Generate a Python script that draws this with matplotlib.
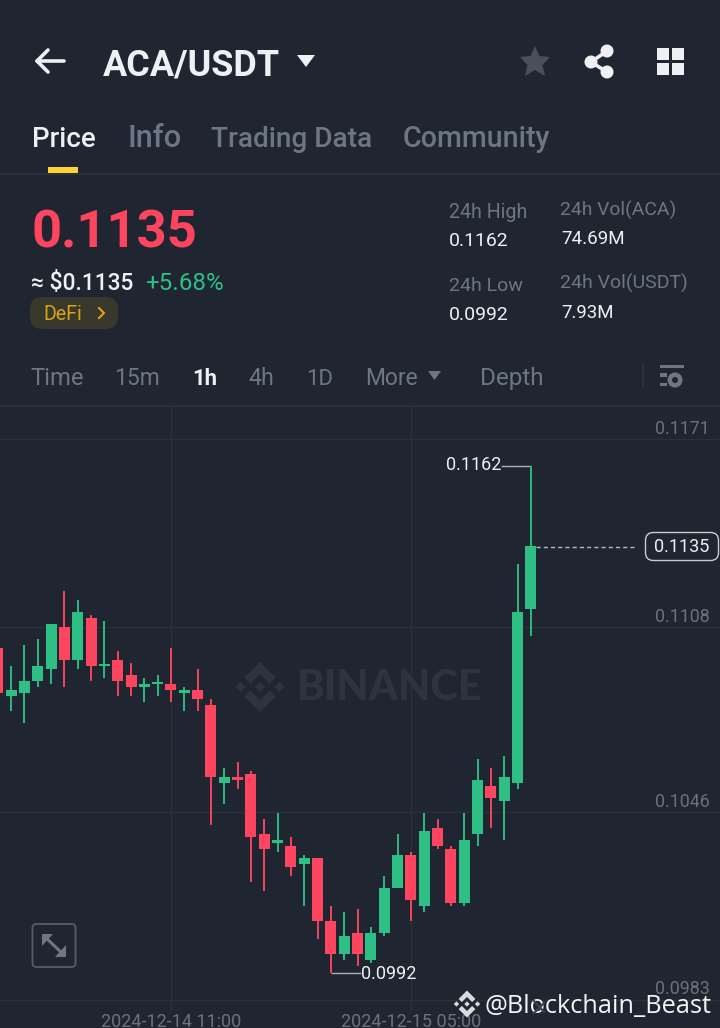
import matplotlib
matplotlib.use("Agg")
import matplotlib.pyplot as plt
from matplotlib.patches import FancyBboxPatch, Polygon, Rectangle, Circle
from matplotlib.transforms import ScaledTranslation

# ---------- data ----------
opens = [.110118,.108496,.108597,.109000,.109403,.110813,.109705,.111115,.109513,.109705,
         .109201,.108798,.108899,.108899,.108597,.108698,.108194,.105586,.105787,.105888,
         .103874,.103571,.103471,.102867,.103068,.100963,.099855,.100550,.099644,.100550,
         .102061,.103169,.101457,.104075,.103370,.101557,.103874,.105485,.104981,.105586,.111417]
closes = [.108607,.108698,.109000,.109503,.110913,.109705,.111316,.109503,.109581,.109000,
          .108798,.108899,.108976,.108698,.108698,.108395,.105787,.105787,.105686,.103773,
          .103370,.103649,.102766,.103068,.100963,.099855,.100449,.099855,.100550,.102061,
          .103169,.101658,.103974,.103471,.101557,.103672,.105686,.105082,.105787,.111316,.113518]
highs = [.110118,.109503,.110208,.110410,.110913,.112021,.111719,.111215,.111014,.110007,
         .109604,.109100,.109201,.110108,.108798,.109403,.108395,.106089,.106291,.105989,
         .104377,.104579,.103773,.103169,.103068,.101457,.101255,.101356,.100752,.102464,
         .103874,.103269,.104579,.104377,.103471,.104579,.106391,.106089,.106492,.112927,.116200]
lows = [.108607,.107993,.107590,.108798,.108899,.108798,.109403,.109000,.109100,.108496,
        .108496,.108295,.108496,.108295,.107993,.107993,.104176,.104881,.105384,.102262,
        .101960,.103269,.102464,.101457,.100349,.099207,.099644,.099442,.099543,.100449,
        .102061,.100953,.101255,.103370,.101457,.101457,.103471,.104075,.103672,.105384,.110520]
price_ticks = [0.1171, 0.1108, 0.1046, 0.0983]
time_ticks = [13, 31]
time_labels = ["2024-12-14 11:00", "2024-12-15 05:00"]
last_price = 0.1135
high_24 = 0.1162
low_24 = 0.0992

# ---------- style ----------
BG = "#1f2631"; GRID = "#2a313b"; RED = "#fd455f"; GREEN = "#2ebf85"
GRAY = "#6e7685"; WHITE = "#eef0f3"; AXTXT = "#6a717d"; WM = "#2d343f"
FONT = "Roboto"
W, H = 720, 1028
PXPT = 72 / 100

fig = plt.figure(figsize=(7.2, 10.28), dpi=100, facecolor=BG)

# ---------- chart axes ----------
ax_top, ax_bot = 407, 1012
ax = fig.add_axes([0, (H - ax_bot) / H, 1, (ax_bot - ax_top) / H], facecolor=BG)
step, x0 = 13.33, -2.3
y_per = 29819.0
ref_y, ref_p = 439.4, 0.1171
ax.set_xlim((0 - x0) / step, (W - x0) / step)
ax.set_ylim(ref_p - (ax_bot - ref_y) / y_per, ref_p - (ax_top - ref_y) / y_per)
for s in ax.spines.values():
    s.set_visible(False)

idx = list(range(len(opens)))
cols = [GREEN if c >= o else RED for o, c in zip(opens, closes)]
ax.vlines(idx, lows, highs, colors=cols, lw=1.35, zorder=3)
ax.bar(idx, [max(abs(c - o), 2 / y_per) for o, c in zip(opens, closes)],
       bottom=[min(o, c) for o, c in zip(opens, closes)],
       width=11 / step, color=cols, linewidth=0, zorder=4)

ax.set_yticks(price_ticks, [f"{p:.4f}" for p in price_ticks])
ax.set_xticks(time_ticks, time_labels)
ax.grid(True, color=GRID, lw=1.0, zorder=0)
ax.set_axisbelow(True)
ax.tick_params(axis="x", length=0, pad=1, labelcolor=AXTXT, labelsize=13)
ax.tick_params(axis="y", length=0, pad=-7.5, labelleft=False, labelright=True,
               labelcolor=AXTXT, labelsize=12.8)
for lab in ax.get_xticklabels():
    lab.set_fontfamily(FONT)
for tick in ax.yaxis.get_major_ticks():
    tick.label2.set_fontfamily(FONT)
    tick.label2.set_ha("right")
    tick.label2.set_va("center")
    tick.label2.set_transform(tick.label2.get_transform()
                              + ScaledTranslation(0, 10.5 / 100, fig.dpi_scale_trans))

# high / low leaders
hi_i = highs.index(max(highs)); lo_i = lows.index(min(lows))
ax.hlines(high_24, hi_i - 30 / step, hi_i, color="#aeb3bb", lw=1.0, zorder=2)
ax.hlines(low_24, lo_i, lo_i + 30 / step, color="#aeb3bb", lw=1.0, zorder=2)
ax.annotate(f"{high_24:.4f}", (hi_i, high_24), xytext=(-30 * PXPT, 0.8), textcoords="offset points",
            ha="right", va="center", color=WHITE, fontsize=13, family=FONT)
ax.annotate(f"{low_24:.4f}", (lo_i, low_24), xytext=(30 * PXPT, -0.8), textcoords="offset points",
            ha="left", va="center", color=WHITE, fontsize=13, family=FONT)
# last price
ax.hlines(last_price, idx[-1] + 0.42, (637 - x0) / step, color="#b4b8bf", lw=1.0,
          linestyles=(0, (3, 2.2)), zorder=2)
ax.annotate(f"{last_price:.4f}", (682 / W, last_price), xycoords=ax.get_yaxis_transform(),
            ha="center", va="center", color=WHITE, fontsize=13, family=FONT, zorder=8)

# ---------- UI overlay in pixels ----------
ui = fig.add_axes([0, 0, 1, 1], facecolor="none", zorder=5)
ui.set_xlim(0, W); ui.set_ylim(H, 0); ui.axis("off")
ax.set_zorder(6); ax.patch.set_alpha(1)
rend = fig.canvas.get_renderer()

def fit(x1, x2, y, s, color=WHITE, weight="normal", family=FONT, target=ui):
    t = target.text(x1, y, s, color=color, fontweight=weight, family=family,
                    ha="left", va="baseline", fontsize=14, zorder=9)
    w = t.get_window_extent(rend).width
    t.set_fontsize(14 * (x2 - x1) / w)
    return t

def rect(x1, y1, x2, y2, c, target=ui, z=2):
    target.add_patch(Rectangle((x1, y1), x2 - x1, y2 - y1, fc=c, ec="none", zorder=z))

def poly(pts, c, target=ui, z=3):
    target.add_patch(Polygon(pts, closed=True, fc=c, ec="none", zorder=z))

def logo(cx, cy, r, c, target=ui, z=3):
    for dx in (-0.78, 0, 0.78):
        poly([(cx + (dx - .2) * r, cy), (cx + dx * r, cy - .2 * r),
              (cx + (dx + .2) * r, cy), (cx + dx * r, cy + .2 * r)], c, target, z)
    for sgn in (-1, 1):
        poly([(cx, cy + sgn * r), (cx + .62 * r, cy + sgn * .38 * r),
              (cx + .38 * r, cy + sgn * .14 * r), (cx, cy + sgn * .52 * r),
              (cx - .38 * r, cy + sgn * .14 * r), (cx - .62 * r, cy + sgn * .38 * r)],
             c, target, z)

# header
ui.plot([37, 64], [61, 61], color=WHITE, lw=2.6, solid_capstyle="round")
ui.plot([48, 37, 48], [50, 61, 72], color=WHITE, lw=2.6, solid_capstyle="round", solid_joinstyle="round")
fit(103, 281, 75, "ACA/USDT", weight="bold")
poly([(297, 55), (315, 55), (306, 67)], WHITE)
star = [(535, 46), (539.5, 56), (550, 57), (542.5, 65), (545, 76), (535, 70), (525, 76), (527.5, 65), (520, 57), (530.5, 56)]
poly(star, "#49505c")
ui.plot([607, 591, 607], [51, 62, 72], color=WHITE, lw=2.6)
for cx, cy, r in [(607, 51, 6.5), (591, 62, 6.5), (607, 72, 6.5)]:
    ui.add_patch(Circle((cx, cy), r, fc=WHITE, ec="none", zorder=3))
for x in (657, 672):
    for y in (48, 63):
        rect(x, y, x + 12, y + 12, WHITE)

fit(32, 96, 147, "Price", weight="medium")
fit(127, 181, 147, "Info", color=GRAY, weight="medium")
fit(211, 372, 147, "Trading Data", color=GRAY, weight="medium")
fit(403, 551, 147, "Community", color=GRAY, weight="medium")
rect(48, 167, 78, 173, "#fcd535", z=3)
rect(0, 173, W, 175, GRID)

fit(31, 197, 248, "0.1135", color=RED, weight="bold")
fit(31, 134, 290, "≈ $0.1135", weight="medium")
fit(145, 224, 290, "+5.68%", color=GREEN)
ui.add_patch(FancyBboxPatch((34, 301), 80, 24, boxstyle="round,pad=0,rounding_size=8",
                            mutation_aspect=1, fc="#3a372c", ec="#3a372c", lw=8 * PXPT, zorder=2))
fit(43, 82, 320, "DeFi", color="#d8a70d")
ui.plot([99, 104, 99], [308, 313, 318], color="#d8a70d", lw=1.5)

fit(449, 528, 218, "24h High", color=GRAY)
fit(449, 509, 246, "0.1162")
fit(449, 523, 291, "24h Low", color=GRAY)
fit(449, 509, 320, "0.0992")
fit(560, 676, 216, "24h Vol(ACA)", color=GRAY)
fit(561, 625, 244, "74.69M")
fit(560, 688, 289, "24h Vol(USDT)", color=GRAY)
fit(561, 614, 318, "7.93M")

fit(30, 84, 385, "Time", color=GRAY)
fit(114, 160, 385, "15m", color=GRAY)
fit(192, 217, 385, "1h", weight="bold")
fit(248, 274, 385, "4h", color=GRAY)
fit(306, 333, 385, "1D", color=GRAY)
fit(365, 418, 385, "More", color=GRAY)
poly([(428, 371), (441, 371), (434.5, 380)], GRAY)
fit(480, 544, 385, "Depth", color=GRAY)
rect(642, 363, 644, 387, GRID)
rect(660, 365, 684, 368, GRAY)
rect(660, 373, 667, 377, GRAY)
rect(660, 383, 667, 386, GRAY)
ui.add_patch(Circle((675, 380), 7.5, fc=GRAY, ec="none", zorder=3))
ui.add_patch(Circle((675, 380), 3, fc=BG, ec="none", zorder=4))
rect(0, 405, W, 407, GRID)

# overlays that must sit over the chart
top = fig.add_axes([0, 0, 1, 1], facecolor="none", zorder=7)
top.set_xlim(0, W); top.set_ylim(H, 0); top.axis("off")

logo(260, 687, 25, WM, top)
fit(297, 484, 700, "BINANCE", color=WM, weight="black", family="Lato", target=top)

top.add_patch(FancyBboxPatch((645.5, 532.5), 73, 28, boxstyle="round,pad=0,rounding_size=8",
                             fc="none", ec="#c9ccd1", lw=1.0, zorder=3))
# expand button
top.add_patch(FancyBboxPatch((32.5, 924), 43, 43, boxstyle="round,pad=0,rounding_size=4",
                             fc=BG, ec="#565d69", lw=1.3, zorder=3))
poly([(42, 934), (53, 934), (42, 946)], "#6e7685", top, 4)
poly([(66, 957), (55, 957), (66, 945)], "#6e7685", top, 4)
top.plot([44, 64], [936, 955], color="#6e7685", lw=2.2, zorder=4)

logo(467, 1004, 13.5, "#d9dbde", top, 10)
fit(484, 712, 1013, "@Blockchain_Beast", color="#f4f5f6", family="Open Sans", target=top)
top.plot([534, 544], [1001, 1012], color="#3c414a", lw=1.6, zorder=12)
top.plot([544, 534], [1003, 1013], color="#3c414a", lw=1.6, zorder=12)

fig.savefig("out.png", dpi=100, facecolor=BG)
